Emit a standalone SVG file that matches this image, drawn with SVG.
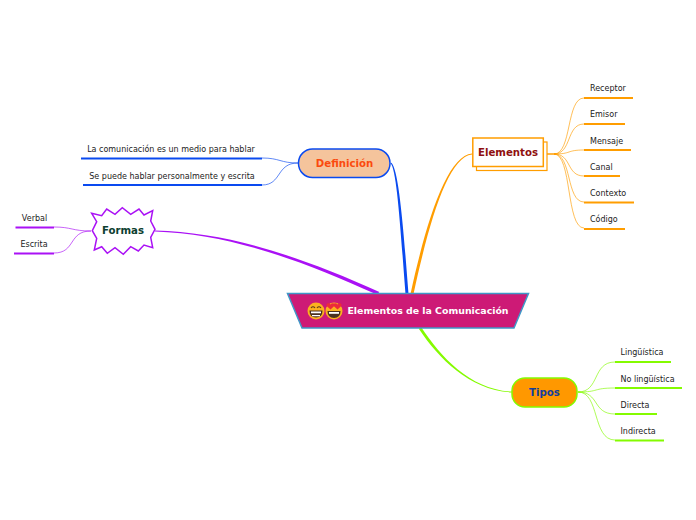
<svg xmlns="http://www.w3.org/2000/svg" width="696" height="520" viewBox="0 0 696 520">
<style>
text{font-family:"DejaVu Sans",sans-serif}
.l{font-size:8px;fill:#222}
.h{font-size:10.200px;font-weight:bold;text-anchor:middle}
.c{fill:none}
.bl{stroke:#0a4af0}.pu{stroke:#aa11f5}.or{stroke:#ff9d00}.gr{stroke:#84fb00}
.thin{stroke-width:1;opacity:.65}
.u{stroke-width:2;fill:none}
</style>
<rect width="696" height="520" fill="#fff"/>
<g id="connectors">
<path fill="#0a4af0" d="M390.600 163.300C397 170 400.500 230 405.500 294L408.500 294C403.500 230 399 170 391.400 162.700z"/>
<path fill="#aa11f5" d="M155 231.400C230 234 298.500 259.500 376.800 294.500L379.400 292C301.500 257 230 232.500 155 230.600z"/>
<path fill="#ff9d00" d="M472 153.600C447.500 155.500 426.500 220 410.500 294L413.500 294C429.500 220 448.500 156.500 472 154.400z"/>
<path fill="#84fb00" d="M418.800 328.800C439 359 470 390.500 512 392.400L512 391.600C470 389.500 441 357 421.200 327.200z"/>
<path class="c bl thin" d="M262 158C280 158 280 163 298 163M262 185C282 185 276 163 298 163"/>
<path class="c pu thin" d="M54 227C72 227 72 231 91 231M54 253C76 253 68 231 91 231"/>
<path class="c or thin" d="M554 154C572 154 566 98 584 98M554 154C572 154 566 124 584 124M554 154C572 154 566 150 584 150M554 154C572 154 566 176 584 176M554 154C572 154 566 202 584 202M554 154C572 154 566 228 584 228"/>
<path class="c or" stroke-width="1.500" d="M547 154H556"/>
<path class="c gr thin" d="M578 392C600 392 592 362 615 362M578 392C600 392 592 388 615 388M578 392C600 392 592 414 615 414M578 392C600 392 592 440 615 440"/>
</g>
<g id="central">
<polygon points="287.500,293.500 528.500,293.500 514,328 302,328" fill="#cd1a76" stroke="#3f98c8" stroke-width="1.500"/>
<g id="emoji1">
<circle cx="316" cy="311" r="8.500" fill="#fbb11f"/>
<path d="M311 308q2-2.500 4 0M317 308q2-2.500 4 0" fill="none" stroke="#5a3a1a" stroke-width="1.200"/>
<path d="M309.500 310.500h13q0 7-6.500 7t-6.500-7z" fill="#4a3020"/>
<path d="M311 311.500h10v1.800h-10zM312 315h8v1.300h-8z" fill="#fff"/>
</g>
<g id="emoji2">
<circle cx="334" cy="311" r="8.500" fill="#fbb11f"/>
<path d="M330.500 309.500l-3.800-3.500q-.8-2.500 1.500-2.800 1.500 0 2.300 1.300.8-1.300 2.300-1.300 2.300.3 1.500 2.800zM337.500 309.500l-3.800-3.500q-.8-2.500 1.500-2.800 1.500 0 2.300 1.300.8-1.300 2.300-1.300 2.300.3 1.500 2.800z" fill="#ec2a3a"/>
<path d="M327.500 311h13q0 7-6.500 7t-6.500-7z" fill="#4a3020"/>
<path d="M329 312h10v1.800h-10z" fill="#fff"/>
</g>
<text x="428" y="314" font-size="9.400" font-weight="bold" fill="#fff" text-anchor="middle">Elementos de la Comunicación</text>
</g>
<g id="definicion">
<rect x="298.500" y="149" width="91.500" height="28.500" rx="14" fill="#f5c49c" stroke="#0a4af0" stroke-width="1.500"/>
<text class="h" x="344.500" y="167" fill="#fb4a0e">Definición</text>
</g>
<g id="def1"><text class="l" x="171" y="152" text-anchor="middle">La comunicación es un medio para hablar</text><path class="u bl" d="M81 158.500H262"/></g>
<g id="def2"><text class="l" x="172" y="179" text-anchor="middle">Se puede hablar personalmente y escrita</text><path class="u bl" d="M83 185H262"/></g>
<g id="formas">
<polygon points="91.700,213.300 101.700,215.700 106.700,209 115,214.300 122.300,207.700 130.700,214.300 139,209 144,215 152.700,210.700 150.700,221 155,229.300 150.700,237.300 152.700,247.700 144,245 138.300,251 130.700,246.700 123.300,254.300 115,247.700 107.300,253.300 101.700,246.700 94.300,250 96.700,238.300 92.300,230.700 96.700,221.700" fill="#fff" stroke="#aa11f5" stroke-width="1.500"/>
<text class="h" x="123" y="234" fill="#0d4030">Formas</text>
</g>
<g id="verbal"><text class="l" x="34.500" y="221" text-anchor="middle">Verbal</text><path class="u pu" d="M15.500 227.500H54"/></g>
<g id="escrita"><text class="l" x="34" y="247" text-anchor="middle">Escrita</text><path class="u pu" d="M14 253.500H54"/></g>
<g id="elementos">
<rect x="476.500" y="142" width="70.500" height="28.500" fill="#fff" stroke="#ff9d00" stroke-width="1.200"/>
<rect x="472.800" y="138" width="70.500" height="28.500" fill="#fff" stroke="#ff9d00" stroke-width="1.500"/>
<text class="h" x="508" y="156" fill="#8f1010">Elementos</text>
</g>
<g id="receptor"><text class="l" x="590" y="91">Receptor</text><path class="u or" d="M584 98H633"/></g>
<g id="emisor"><text class="l" x="590" y="117">Emisor</text><path class="u or" d="M584 124H625"/></g>
<g id="mensaje"><text class="l" x="590" y="144">Mensaje</text><path class="u or" d="M584 150H631"/></g>
<g id="canal"><text class="l" x="590" y="170">Canal</text><path class="u or" d="M584 176H620"/></g>
<g id="contexto"><text class="l" x="590" y="196">Contexto</text><path class="u or" d="M584 202.500H634"/></g>
<g id="codigo"><text class="l" x="590" y="222">Código</text><path class="u or" d="M584 229H625"/></g>
<g id="tipos">
<rect x="512" y="378" width="65" height="29" rx="13" fill="#ff9800" stroke="#84fb00" stroke-width="1.500"/>
<text class="h" x="544.500" y="396" fill="#123f9c">Tipos</text>
</g>
<g id="linguistica"><text class="l" x="620.500" y="355">Lingüística</text><path class="u gr" d="M615 362H671"/></g>
<g id="nolinguistica"><text class="l" x="620.500" y="382">No lingüística</text><path class="u gr" d="M615 388H682"/></g>
<g id="directa"><text class="l" x="620.500" y="408">Directa</text><path class="u gr" d="M615 414H657"/></g>
<g id="indirecta"><text class="l" x="620.500" y="434">Indirecta</text><path class="u gr" d="M615 440.500H664"/></g>
</svg>
